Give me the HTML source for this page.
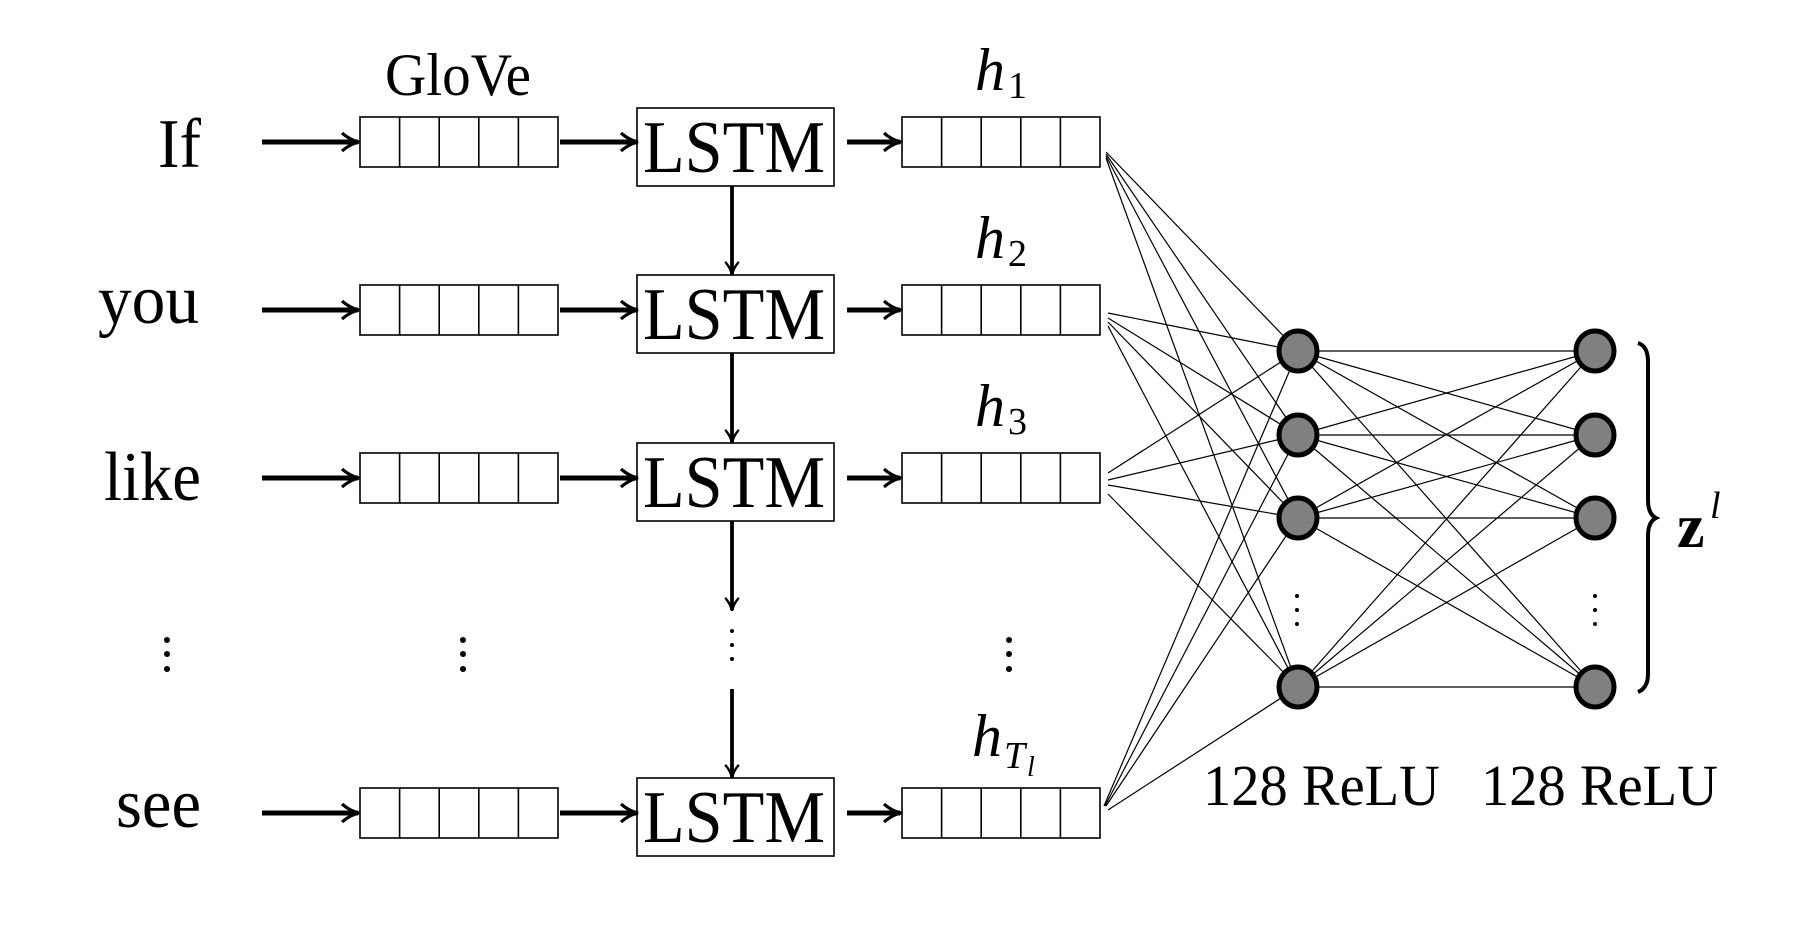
<!DOCTYPE html>
<html><head><meta charset="utf-8"><style>
html,body{margin:0;padding:0;background:#fff;}
svg{display:block;}
text{font-family:"Liberation Serif",serif;fill:#000;}
</style></head><body>
<svg width="1794" height="926" viewBox="0 0 1794 926" xmlns="http://www.w3.org/2000/svg">
<defs>
<marker id="ah" viewBox="0 0 10 10" refX="9" refY="5" markerWidth="4" markerHeight="4" markerUnits="strokeWidth" orient="auto">
<path d="M1,0.5 Q5,4 9.5,5 Q5,6 1,9.5" fill="none" stroke="#000" stroke-width="1.6"/>
</marker>
</defs>
<g stroke="#000" stroke-width="1.2">
<line x1="1106" y1="152" x2="1298" y2="351"/><line x1="1106" y1="154" x2="1298" y2="435"/><line x1="1106" y1="156" x2="1298" y2="518"/><line x1="1106" y1="158" x2="1298" y2="687"/>
<line x1="1108" y1="313" x2="1298" y2="351"/><line x1="1108" y1="318" x2="1298" y2="435"/><line x1="1108" y1="322" x2="1298" y2="518"/><line x1="1108" y1="326" x2="1298" y2="687"/>
<line x1="1108" y1="473" x2="1298" y2="351"/><line x1="1108" y1="480" x2="1298" y2="435"/><line x1="1108" y1="485" x2="1298" y2="518"/><line x1="1108" y1="494" x2="1298" y2="687"/>
<line x1="1104" y1="806" x2="1298" y2="351"/><line x1="1105" y1="806" x2="1298" y2="435"/><line x1="1106" y1="806" x2="1298" y2="518"/><line x1="1108" y1="810" x2="1298" y2="687"/>
<line x1="1298" y1="351" x2="1595" y2="351"/><line x1="1298" y1="351" x2="1595" y2="435"/><line x1="1298" y1="351" x2="1595" y2="518"/><line x1="1298" y1="351" x2="1595" y2="687"/>
<line x1="1298" y1="435" x2="1595" y2="351"/><line x1="1298" y1="435" x2="1595" y2="435"/><line x1="1298" y1="435" x2="1595" y2="518"/><line x1="1298" y1="435" x2="1595" y2="687"/>
<line x1="1298" y1="518" x2="1595" y2="351"/><line x1="1298" y1="518" x2="1595" y2="435"/><line x1="1298" y1="518" x2="1595" y2="518"/><line x1="1298" y1="518" x2="1595" y2="687"/>
<line x1="1298" y1="687" x2="1595" y2="351"/><line x1="1298" y1="687" x2="1595" y2="435"/><line x1="1298" y1="687" x2="1595" y2="518"/><line x1="1298" y1="687" x2="1595" y2="687"/>
</g>
<g fill="#808080" stroke="#000" stroke-width="5">
<ellipse cx="1298" cy="351" rx="19" ry="20"/><ellipse cx="1298" cy="435" rx="19" ry="20"/><ellipse cx="1298" cy="518" rx="19" ry="20"/><ellipse cx="1298" cy="687" rx="19" ry="20"/>
<ellipse cx="1595" cy="351" rx="19" ry="20"/><ellipse cx="1595" cy="435" rx="19" ry="20"/><ellipse cx="1595" cy="518" rx="19" ry="20"/><ellipse cx="1595" cy="687" rx="19" ry="20"/>
</g>
<g fill="#000">
<circle cx="1297" cy="596" r="2"/><circle cx="1297" cy="610" r="2"/><circle cx="1297" cy="624" r="2"/>
<circle cx="1595" cy="596" r="2"/><circle cx="1595" cy="610" r="2"/><circle cx="1595" cy="624" r="2"/>
</g>
<path d="M1638,343 Q1648,346 1648,362 L1648,500 Q1648,514 1656,518 Q1648,522 1648,536 L1648,674 Q1648,688 1638,692" fill="none" stroke="#000" stroke-width="4"/>
<text x="1677" y="547" font-size="62" font-weight="bold">z</text>
<text x="1710" y="518" font-size="38" font-style="italic">l</text>
<g stroke="#000" fill="none">
<g stroke-width="5" marker-end="url(#ah)">
<line x1="262" y1="142" x2="358" y2="142"/><line x1="262" y1="310" x2="358" y2="310"/><line x1="262" y1="478" x2="358" y2="478"/><line x1="262" y1="813" x2="358" y2="813"/>
<line x1="560" y1="142" x2="637" y2="142"/><line x1="560" y1="310" x2="637" y2="310"/><line x1="560" y1="478" x2="637" y2="478"/><line x1="560" y1="813" x2="637" y2="813"/>
<line x1="847" y1="142" x2="900" y2="142"/><line x1="847" y1="310" x2="900" y2="310"/><line x1="847" y1="478" x2="900" y2="478"/><line x1="847" y1="813" x2="900" y2="813"/>
</g>
<g stroke-width="3.8" marker-end="url(#ah)">
<line x1="732" y1="186" x2="732" y2="274"/><line x1="732" y1="353" x2="732" y2="442"/><line x1="732" y1="521" x2="732" y2="610"/><line x1="732" y1="689" x2="732" y2="777"/>
</g>
<g stroke-width="1.6">
<rect x="360" y="117" width="198" height="50"/><rect x="360" y="285" width="198" height="50"/><rect x="360" y="453" width="198" height="50"/><rect x="360" y="788" width="198" height="50"/>
<rect x="902" y="117" width="198" height="50"/><rect x="902" y="285" width="198" height="50"/><rect x="902" y="453" width="198" height="50"/><rect x="902" y="788" width="198" height="50"/>
<path d="M399.6,117v50M439.2,117v50M478.8,117v50M518.4,117v50 M399.6,285v50M439.2,285v50M478.8,285v50M518.4,285v50 M399.6,453v50M439.2,453v50M478.8,453v50M518.4,453v50 M399.6,788v50M439.2,788v50M478.8,788v50M518.4,788v50"/>
<path d="M941.6,117v50M981.2,117v50M1020.8,117v50M1060.4,117v50 M941.6,285v50M981.2,285v50M1020.8,285v50M1060.4,285v50 M941.6,453v50M981.2,453v50M1020.8,453v50M1060.4,453v50 M941.6,788v50M981.2,788v50M1020.8,788v50M1060.4,788v50"/>
<rect x="637" y="108" width="197" height="78"/><rect x="637" y="275" width="197" height="78"/><rect x="637" y="443" width="197" height="78"/><rect x="637" y="778" width="197" height="78"/>
</g>
</g>
<g fill="#000">
<circle cx="167" cy="640" r="3"/><circle cx="167" cy="654" r="3"/><circle cx="167" cy="669" r="3"/>
<circle cx="463" cy="640" r="3"/><circle cx="463" cy="654" r="3"/><circle cx="463" cy="669" r="3"/>
<circle cx="1009" cy="640" r="3"/><circle cx="1009" cy="654" r="3"/><circle cx="1009" cy="669" r="3"/>
<circle cx="732" cy="631" r="2"/><circle cx="732" cy="645" r="2"/><circle cx="732" cy="659" r="2"/>
</g>
<g font-size="70">
<text x="158" y="167" textLength="43" lengthAdjust="spacingAndGlyphs">If</text>
<text x="98" y="323" textLength="101" lengthAdjust="spacingAndGlyphs">you</text>
<text x="104" y="500" textLength="97" lengthAdjust="spacingAndGlyphs">like</text>
<text x="116" y="827" textLength="85" lengthAdjust="spacingAndGlyphs">see</text>
</g>
<g font-size="74">
<text x="643" y="172" textLength="182" lengthAdjust="spacingAndGlyphs">LSTM</text>
<text x="643" y="339" textLength="182" lengthAdjust="spacingAndGlyphs">LSTM</text>
<text x="643" y="507" textLength="182" lengthAdjust="spacingAndGlyphs">LSTM</text>
<text x="643" y="842" textLength="182" lengthAdjust="spacingAndGlyphs">LSTM</text>
</g>
<text x="385" y="95" font-size="60" textLength="146" lengthAdjust="spacingAndGlyphs">GloVe</text>
<g font-size="60" font-style="italic">
<text x="975" y="90">h</text><text x="975" y="258">h</text><text x="975" y="426">h</text><text x="972" y="756">h</text>
</g>
<g font-size="38">
<text x="1008" y="98">1</text><text x="1008" y="266">2</text><text x="1008" y="434">3</text>
<text x="1004" y="768" font-style="italic">T</text><text x="1027" y="776" font-size="28" font-style="italic">l</text>
</g>
<g font-size="58">
<text x="1203" y="805" textLength="237" lengthAdjust="spacingAndGlyphs">128 ReLU</text>
<text x="1481" y="805" textLength="237" lengthAdjust="spacingAndGlyphs">128 ReLU</text>
</g>
</svg>
</body></html>
